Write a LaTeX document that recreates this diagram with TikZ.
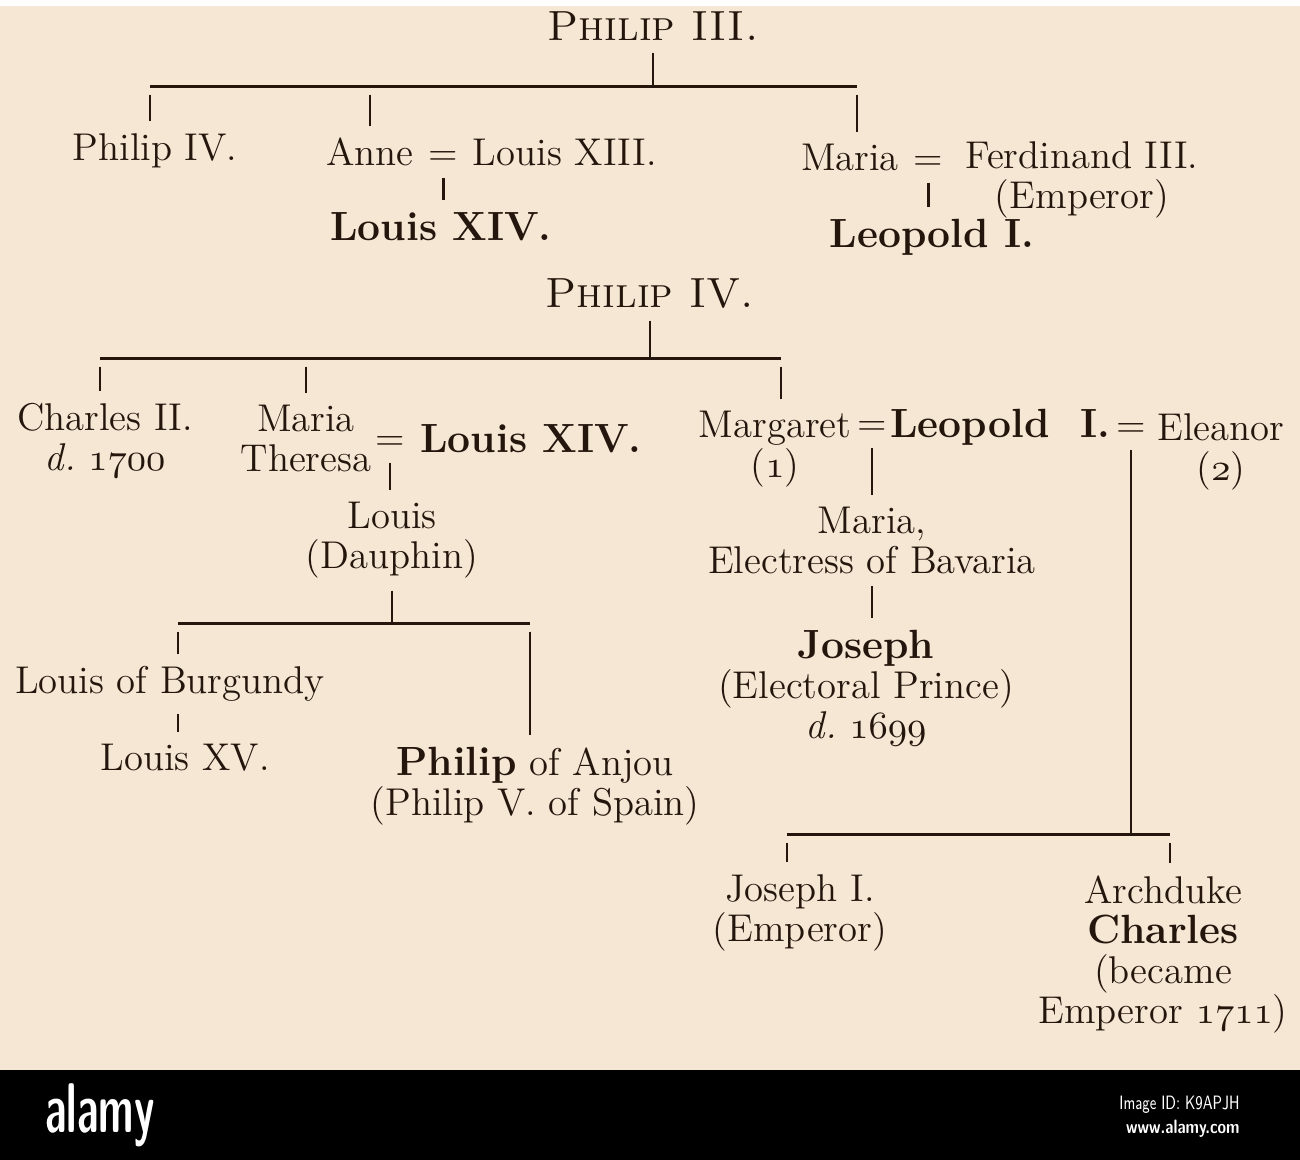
\documentclass[tikz,border=0pt]{standalone}
\usetikzlibrary{positioning}

\definecolor{paper}{RGB}{245,231,212}
\definecolor{ink}{RGB}{36,22,12}

\newcommand{\royal}[1]{{\fontsize{11.6}{11.4}\selectfont\bfseries #1}}
\newcommand{\head}[1]{{\fontsize{12}{12}\selectfont\textsc{#1}}}
\newcommand{\yr}[1]{\legacyoldstylenums{#1}}

\begin{document}
\begin{tikzpicture}[x=0.01cm, y=-0.01cm, font=\fontsize{11}{11.4}\selectfont,
    every node/.style={text=ink},
    person/.style={anchor=base, align=center},
    wed/.style={anchor=base, inner xsep=0.5pt},
    kin/.style={draw=ink, line width=0.7pt},
    drop/.style={shorten <=0.8mm}]
  \fill[paper] (0,0) rectangle (1300,1064);
  \fill[black] (0,1064) rectangle (1300,1154);

  % first table: the children of Philip III
  \node[person] (ph3) at (653,35) {\head{Philip III.}};
  \coordinate (b1w) at (150,81);
  \coordinate (b1e) at (857,81);
  \node[person] (ph4a) at (155,155) {Philip IV.};
  \node[person] (anne) at (370,160) {Anne};
  \node[wed, base right=0pt of anne] (eqA) {=};
  \node[person, base right=0pt of eqA] (louis13) {Louis XIII.};
  \node[person] (louis14a) at (441,235) {\royal{Louis XIV.}};
  \node[person] (mariaA) at (850,165) {Maria};
  \node[wed, base right=0pt of mariaA] (eqB) {=};
  \node[person] (ferd) at (1082,203) {Ferdinand III.\\(Emperor)};
  \node[person] (leo1a) at (932,242) {\royal{Leopold I.}};

  \draw[kin] (ph3.south) -- (ph3.south |- b1w);
  \draw[kin] (b1w) -- (b1e);
  \draw[kin, drop] (b1w) -- (b1w |- ph4a.north);
  \draw[kin, drop] (anne.north |- b1w) -- (anne.north);
  \draw[kin, drop] (b1e) -- (b1e |- mariaA.north);
  \draw[kin] (eqA.south) -- (eqA.south |- louis14a.north);
  \draw[kin] (eqB.south) -- (eqB.south |- leo1a.north);

  % second table: the children of Philip IV
  \node[person] (ph4) at (650,302) {\head{Philip IV.}};
  \coordinate (b2w) at (100,353);
  \coordinate (b2e) at (781,353);
  \node[person] (charles2) at (105,465) {Charles II.\\\textit{d.}~\yr{1700}};
  \node[person] (mtheresa) at (306,466) {Maria\\Theresa};
  \node[wed] (eqC) at (390,445) {=};
  \node[person] (louis14) at (531,447) {\royal{Louis XIV.}};
  \node[person] (dauphin) at (392,563) {Louis\\(Dauphin)};
  \coordinate (b3w) at (178,618);
  \coordinate (b3e) at (530,618);
  \node[person] (burgundy) at (170,688) {Louis of Burgundy};
  \node[person] (louis15) at (185,765) {Louis XV.};
  \node[person] (anjou) at (535,810) {\royal{Philip} of Anjou\\(Philip V. of Spain)};

  \node[person] (margaret) at (775,472) {Margaret\\(\yr{1})};
  \node[wed] (eqD) at (872,430) {=};
  \node[person] (leopold) at (1000,432) {\royal{Leopold\ \ I.}};
  \node[wed] (eqE) at (1131,432) {=};
  \node[person] (eleanor) at (1221,475) {Eleanor\\(\yr{2})};
  \node[person] (electress) at (872,568) {Maria,\\Electress of Bavaria};
  \node[person] (joseph) at (866,733) {\royal{Joseph}\\(Electoral Prince)\\\textit{d.}~\yr{1699}};
  \coordinate (b4w) at (787,829);
  \coordinate (b4e) at (1170,829);
  \node[person] (joseph1) at (800,936) {Joseph I.\\(Emperor)};
  \node[person] (charles6) at (1163,1018) {Archduke\\\royal{Charles}\\(became\\Emperor \yr{1711})};

  \draw[kin] (ph4.south) -- (ph4.south |- b2w);
  \draw[kin] (b2w) -- (b2e);
  \draw[kin, drop] (b2w) -- (b2w |- charles2.north);
  \draw[kin, drop] (mtheresa.north |- b2w) -- (mtheresa.north);
  \draw[kin, drop] (b2e) -- (b2e |- margaret.north);
  \draw[kin] (eqC.south) -- (eqC.south |- dauphin.north);
  \draw[kin] (dauphin.south) -- (dauphin.south |- b3w);
  \draw[kin] (b3w) -- (b3e);
  \draw[kin, drop] (b3w) -- (b3w |- burgundy.north);
  \draw[kin, drop] (b3e) -- (b3e |- anjou.north);
  \draw[kin] (burgundy.south -| b3w) -- (louis15.north -| b3w);
  \draw[kin] (eqD.south) -- (eqD.south |- electress.north);
  \draw[kin] (electress.south -| eqD) -- (joseph.north -| eqD);
  \draw[kin] (eqE.south) -- (eqE.south |- b4w);
  \draw[kin] (b4w) -- (b4e);
  \draw[kin, drop] (b4w) -- (b4w |- joseph1.north);
  \draw[kin, drop] (b4e) -- (b4e |- charles6.north);

  % stock strip
  \node[text=white] (logo) at (100,1110) {\scalebox{0.58}[1]{\fontsize{20}{20}\selectfont\sffamily\bfseries alamy}};
  \node[text=white, anchor=base east] (imgid) at (1252,1104)
    {\scalebox{0.72}[1]{\fontsize{5.5}{6}\selectfont\sffamily Image ID: K9APJH}};
  \node[text=white, anchor=base east] (site) at (1252,1128)
    {\scalebox{0.8}[1]{\fontsize{5.5}{6}\selectfont\sffamily\bfseries www.alamy.com}};
\end{tikzpicture}
\end{document}
